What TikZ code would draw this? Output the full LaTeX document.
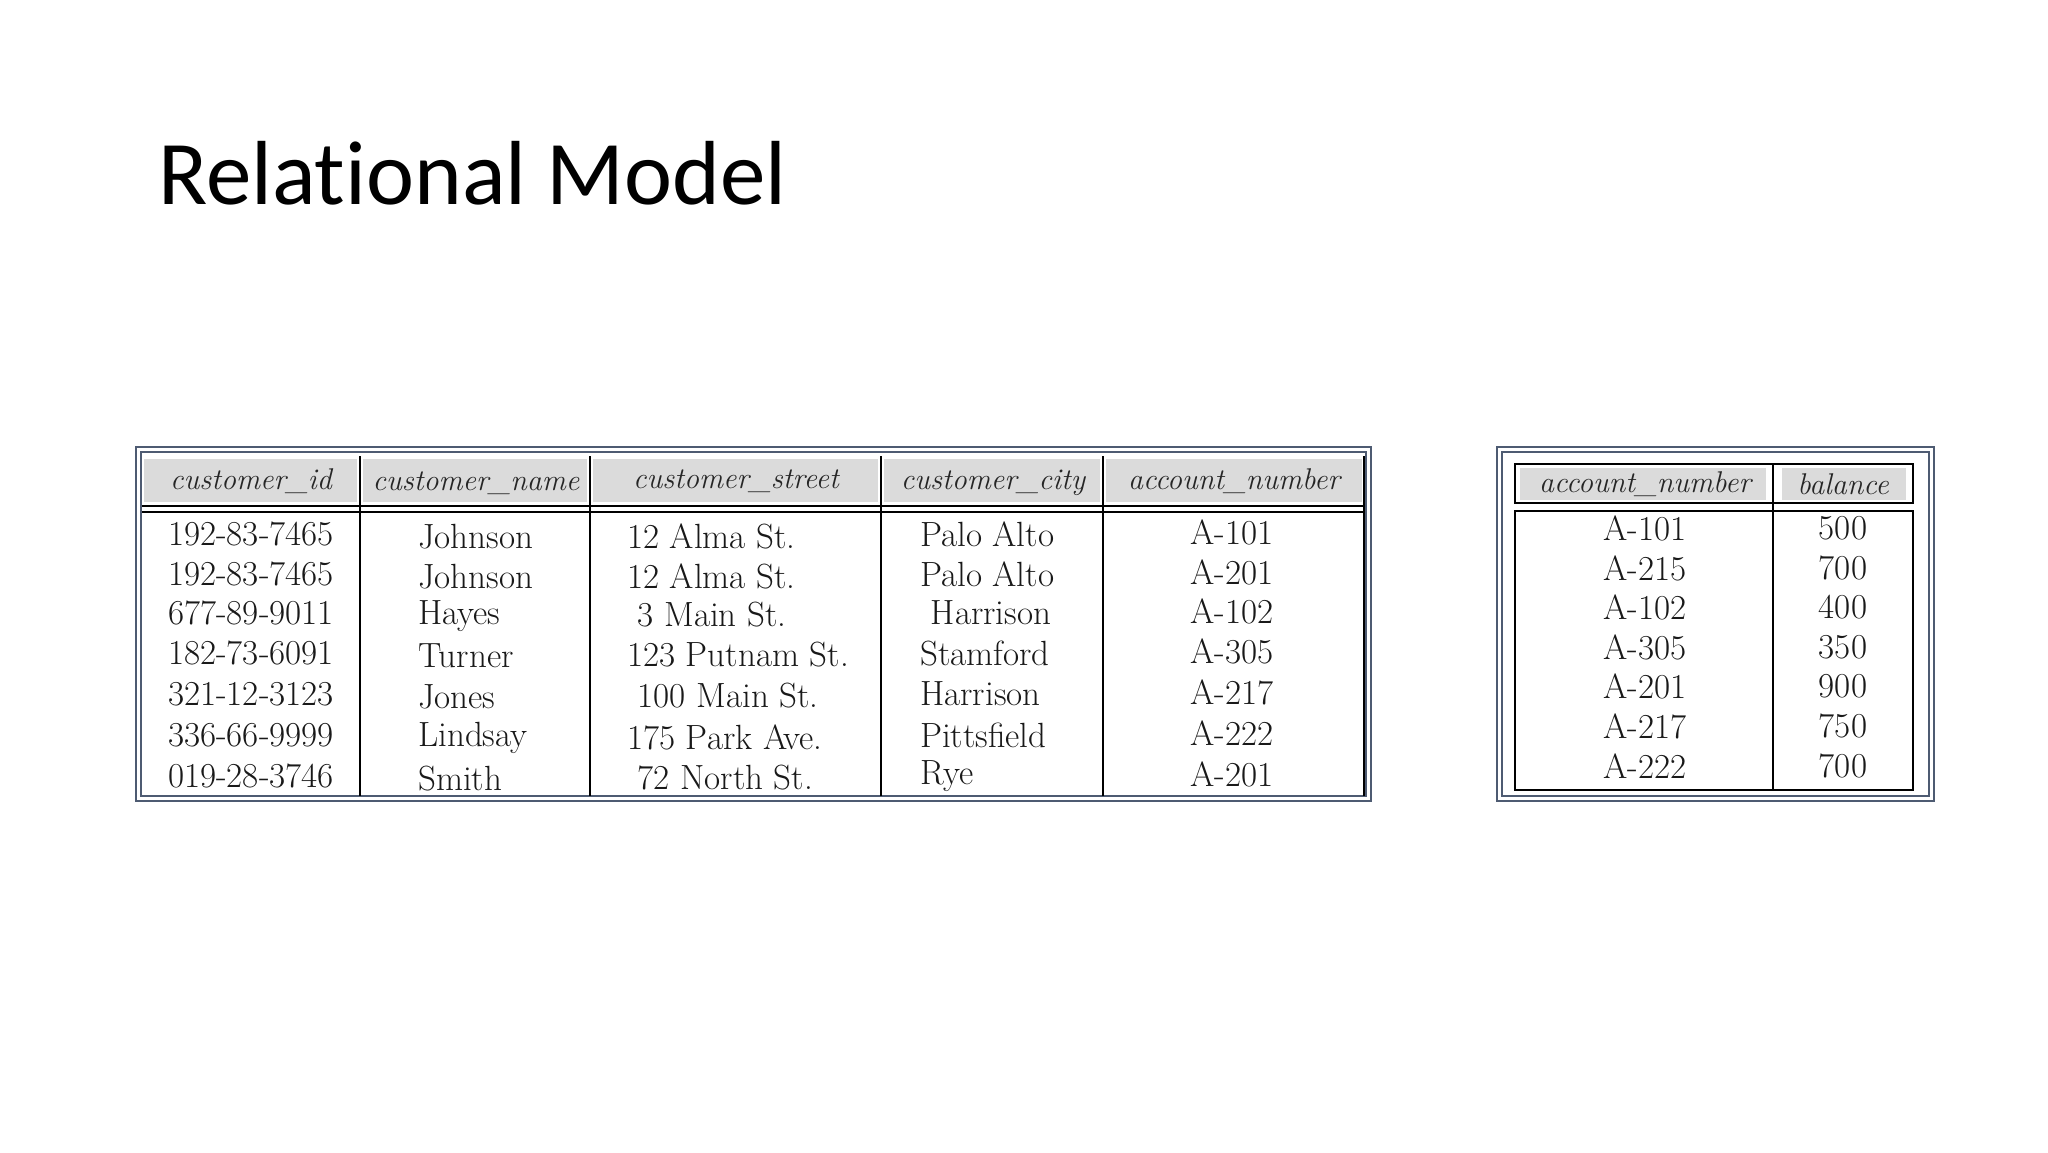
\documentclass[tikz,border=0pt]{standalone}
\usepackage{fontspec}
\newfontfamily\titlefont[Ligatures=NoCommon]{Carlito}
\begin{document}
\begin{tikzpicture}[x=1pt,y=-1pt,
  frame/.style={draw=frameblue,line width=2.2pt},
  rule/.style={draw=black,line width=2pt},
  hdr/.style={font=\fontsize{30}{32}\selectfont\itshape,text=black!85,inner sep=0pt},
  cell/.style={font=\fontsize{35}{38}\selectfont,text=black!90,inner sep=0pt},
  shade/.style={fill=black!14,draw=none}]
\definecolor{frameblue}{HTML}{4E5B72}
\useasboundingbox (0,0) rectangle (2048,1152);
\fill[white] (0,0) rectangle (2048,1152);
\node[anchor=base west,font=\titlefont\fontsize{91}{100}\selectfont,inner sep=0pt] (title) at (158,204) {Relational Model};
% left table
\draw[frame] (136,447) rectangle (1371,801);
\draw[frame,line width=1.5pt] (141,452) rectangle (1366,796);
\foreach \a/\b in {144/357,363/587,593/878,884/1100,1106/1362}
  \fill[shade] (\a,459) rectangle (\b,502);
\draw[rule,line width=1.4pt] (142,506) -- (1365,506);
\draw[rule,line width=1.4pt] (142,512) -- (1365,512);
\foreach \x in {360,590,881,1103} \draw[rule,line width=1.6pt] (\x,456) -- (\x,796);
\draw[rule,line width=1.6pt] (1364,456) -- (1364,796);
\node[hdr] (h1) at (251,481) {customer\_id};
\node[hdr] (h2) at (476,483) {customer\_name};
\node[hdr] (h3) at (736,481) {customer\_street};
\node[hdr] (h4) at (993,483) {customer\_city};
\node[hdr] (h5) at (1234,481) {account\_number};
\foreach \y/\i/\n/\s/\c/\acc [count=\k] in {
 534/192-83-7465/Johnson/12 Alma St./Palo Alto/A-101,
 574/192-83-7465/Johnson/12 Alma St./Palo Alto/A-201,
 613/677-89-9011/Hayes/\ 3 Main St./\ Harrison/A-102,
 653/182-73-6091/Turner/123 Putnam St./Stamford/A-305,
 694/321-12-3123/Jones/\ 100 Main St./Harrison/A-217,
 735/336-66-9999/Lindsay/175 Park Ave./Pittsfield/A-222,
 776/019-28-3746/Smith/\ 72 North St./Rye/A-201}{
  \node[cell] (id\k) at (251,\y) {\i};
  \node[cell,anchor=west] (nm\k) at (418,\y+3) {\n};
  \node[cell,anchor=west] (st\k) at (627,\y+2) {\s};
  \node[cell,anchor=west] (ct\k) at (920,\y) {\c};
  \node[cell] (ac\k) at (1232,\y-2) {\acc};
}
% right table
\draw[frame] (1497,447) rectangle (1934,801);
\draw[frame,line width=1.5pt] (1502,452) rectangle (1929,796);
\fill[shade] (1520,468) rectangle (1766,500);
\fill[shade] (1782,468) rectangle (1906,500);
\draw[rule,line width=2.6pt] (1515,464) rectangle (1913,503);
\draw[rule,line width=2.6pt] (1515,511) rectangle (1913,790);
\draw[rule,line width=2pt] (1773,464) -- (1773,790);
\node[hdr] (r1) at (1645,484) {account\_number};
\node[hdr] (r2) at (1843,484) {balance};
\foreach \y/\acc/\b [count=\k] in {528/A-101/500,568/A-215/700,607/A-102/400,647/A-305/350,686/A-201/900,726/A-217/750,766/A-222/700}{
  \node[cell] (ra\k) at (1645,\y) {\acc};
  \node[cell] (rb\k) at (1843,\y) {\b};
}
\end{tikzpicture}
\end{document}
